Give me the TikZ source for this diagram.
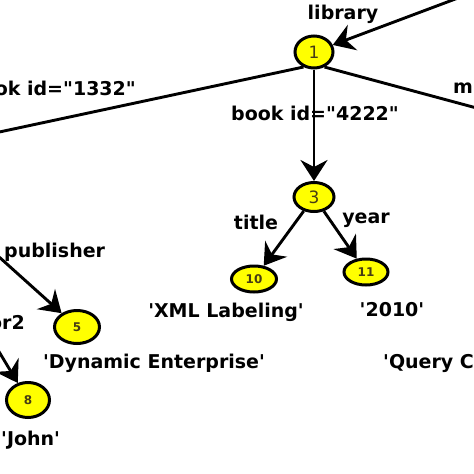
\documentclass[tikz,border=0pt]{standalone}
\usepackage{fontspec}
\setmainfont{DejaVu Sans}[Ligatures=TeXOff]
\usetikzlibrary{shapes.geometric, arrows.meta}
\definecolor{nodeyellow}{RGB}{255,255,0}
\definecolor{numdark}{RGB}{70,60,20}
\tikzset{
  xmlnode/.style={ellipse, draw=black, line width=3pt, fill=nodeyellow, inner sep=0pt, text=numdark},
  bignum/.style={xmlnode, font=\fontsize{17}{17}\selectfont},
  smallnum/.style={xmlnode, font=\fontsize{12}{12}\selectfont\bfseries},
  lbl/.style={font=\fontsize{19}{22}\selectfont\bfseries, inner sep=0pt},
  edge/.style={line width=2.9pt},
  arc/.style={edge, -{Stealth[length=21pt, width=27pt, inset=7pt]}},
}
\begin{document}
\begin{tikzpicture}[x=1pt, y=-1pt]
  \useasboundingbox (0,0) rectangle (474,474);
  \clip (0,0) rectangle (474,474);

  % nodes of the tree
  \node[bignum, minimum width=38pt, minimum height=32pt] (n1) at (314,52) {1};
  \node[bignum, minimum width=40pt, minimum height=29pt] (n3) at (314,197) {3};
  \node[smallnum, minimum width=45pt, minimum height=26pt] (n10) at (254,279) {10};
  \node[smallnum, minimum width=44pt, minimum height=26pt] (n11) at (366,272) {11};
  \node[smallnum, minimum width=45pt, minimum height=33pt] (n5) at (77,327) {5};
  \node[smallnum, minimum width=43pt, minimum height=35pt] (n8) at (28,400) {8};

  % free ends outside the crop
  \coordinate (inTop) at (458,-2);
  \coordinate (leftEnd) at (-10,134);
  \coordinate (rightEnd) at (484,110);
  \coordinate (pubStart) at (-2,256);
  \coordinate (authStart) at (-2,350);

  % edge labels
  \node[lbl] (lLibrary) at (343,14) {library};
  \node[lbl, anchor=east] (lBook1) at (136,88) {book id="1332"};
  \node[lbl, anchor=west] (lMag) at (453,88) {m};
  \node[lbl] (lBook2) at (315,113) {book id="4222"};
  \node[lbl] (lTitle) at (256,222) {title};
  \node[lbl] (lYear) at (366,220) {year};
  \node[lbl, anchor=west] (lPub) at (4,252) {publisher};
  \node[lbl, anchor=east] (lAuth) at (25,323) {or2};

  % text values
  \node[lbl] (vTitle) at (226,312) {'XML Labeling'};
  \node[lbl] (vYear) at (392,310) {'2010'};
  \node[lbl] (vPub) at (154,363) {'Dynamic Enterprise'};
  \node[lbl, anchor=west] (vQuery) at (383,363) {'Query C};
  \node[lbl, anchor=west] (vAuth) at (1,440) {'John'};

  % connectors
  \draw[arc] (inTop) -- (n1);
  \draw[edge] (n1.235) -- (leftEnd);
  \draw[edge] (n1.305) -- (rightEnd);
  \draw[arc] (n1) -- (n3);
  \draw[arc] (n3) -- (n10);
  \draw[arc] (n3) -- (n11);
  \draw[arc] (pubStart) -- (n5);
  \draw[arc] (authStart) -- (n8);
\end{tikzpicture}
\end{document}
